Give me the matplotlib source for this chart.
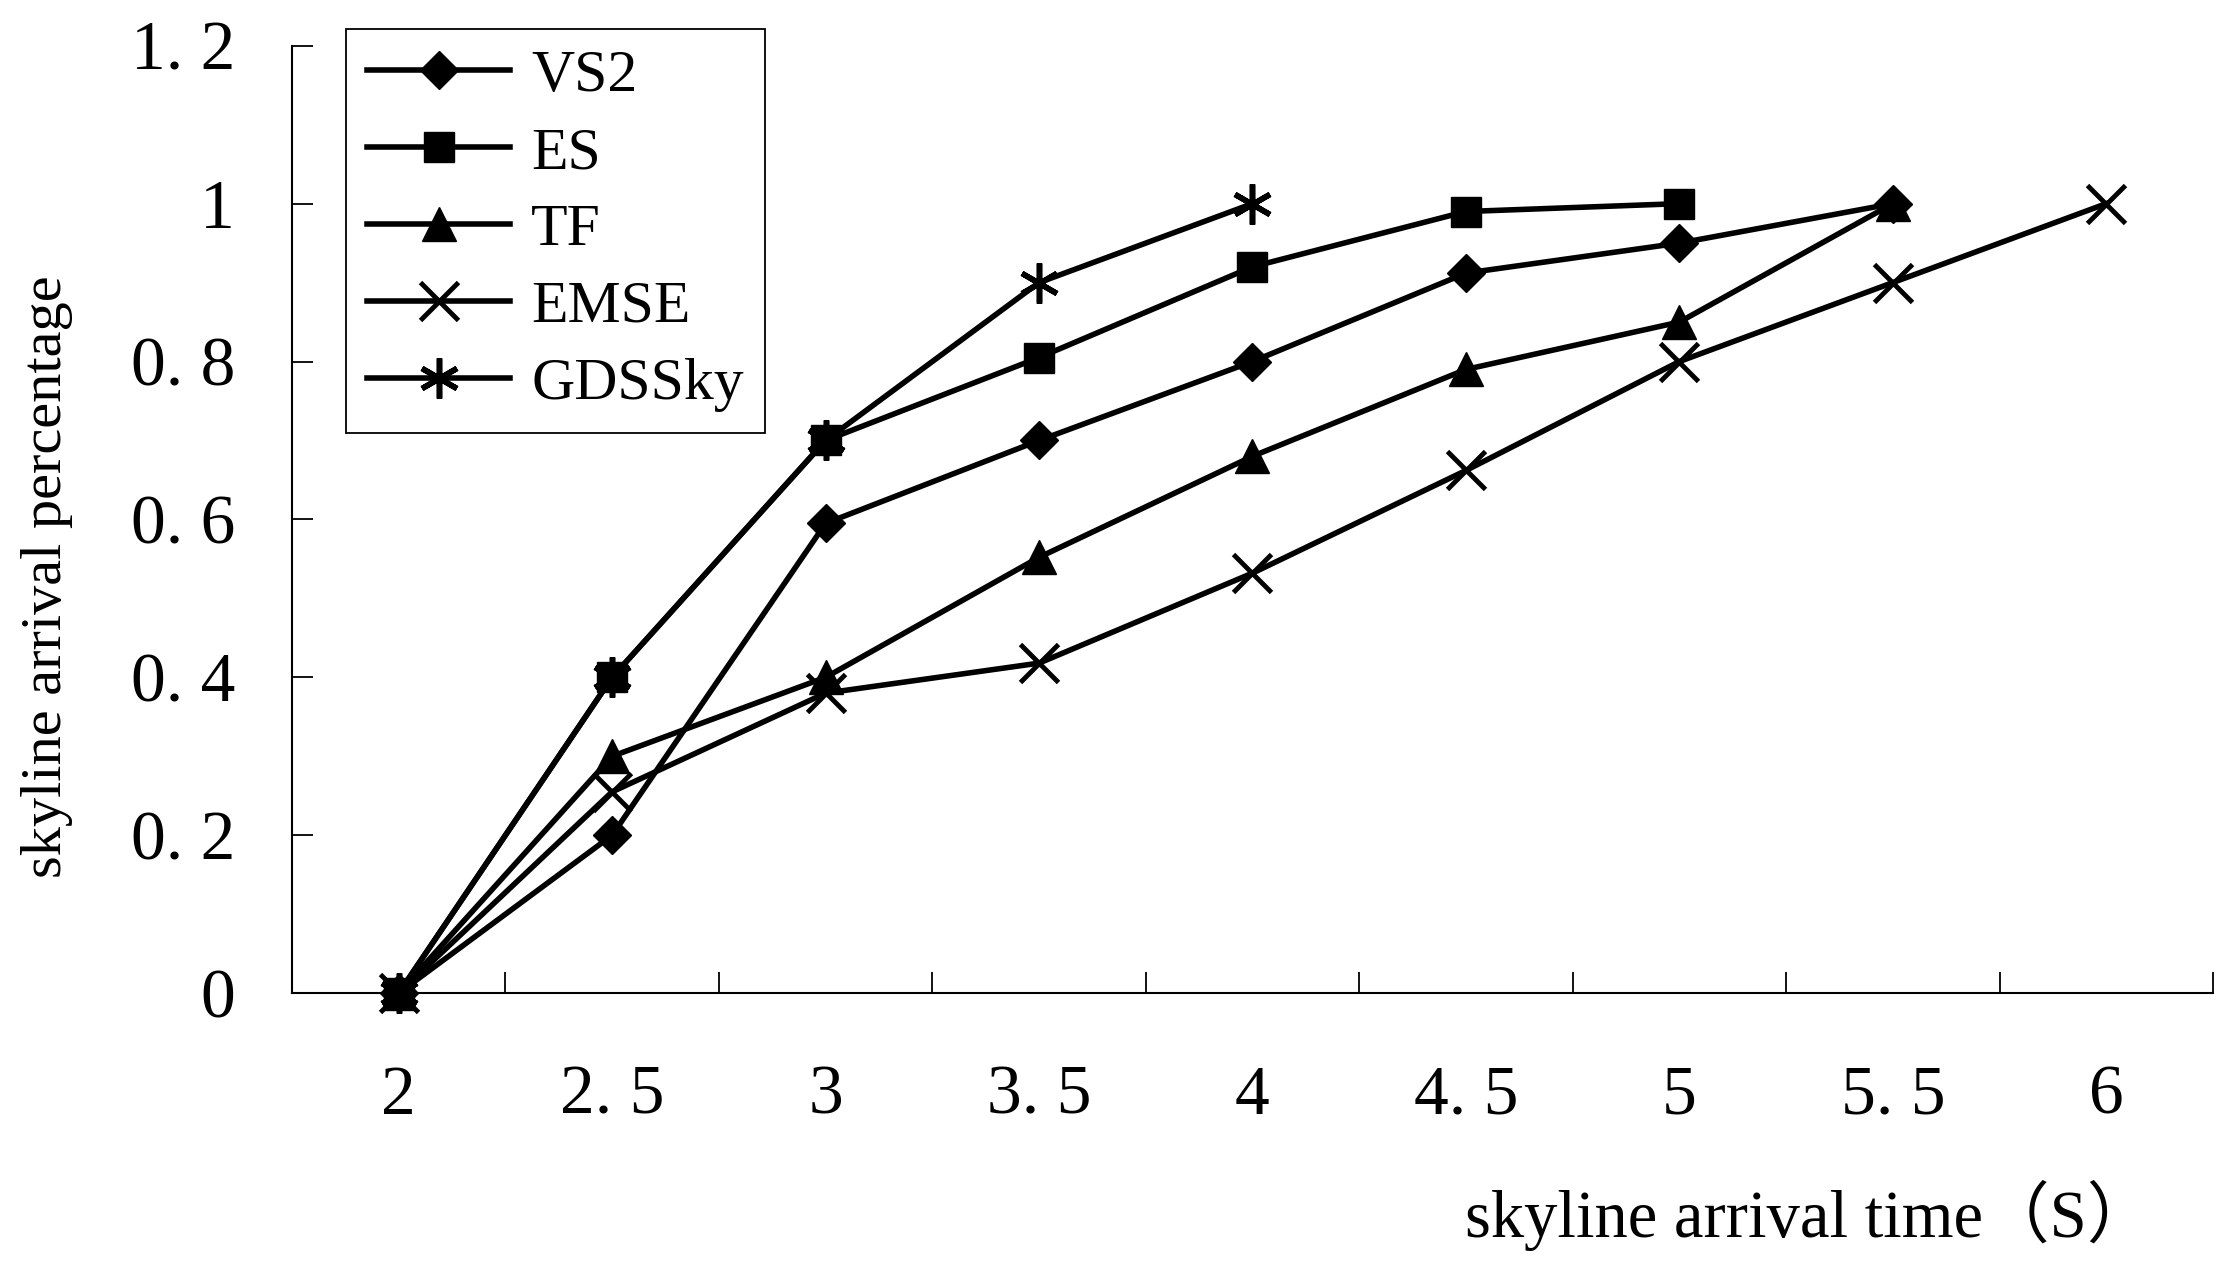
import matplotlib
matplotlib.use("Agg")
import matplotlib.pyplot as plt
from matplotlib.ticker import FixedLocator, FixedFormatter, NullFormatter

# skyline arrival time (S) and the percentage reached by each method
times = [2, 2.5, 3, 3.5, 4, 4.5, 5, 5.5, 6]
time_labels = ["2", "2. 5", "3", "3. 5", "4", "4. 5", "5", "5. 5", "6"]

vs2 = [0, 0.2, 0.595, 0.7, 0.8, 0.912, 0.95, 1.0]
es = [0, 0.4, 0.7, 0.805, 0.92, 0.99, 1.0]
tf = [0, 0.3, 0.4, 0.552, 0.68, 0.79, 0.85, 1.0]
emse = [0, 0.255, 0.38, 0.418, 0.532, 0.662, 0.8, 0.9, 1.0]
gdssky = [0, 0.4, 0.7, 0.9, 1.0]

y_ticks = [0, 0.2, 0.4, 0.6, 0.8, 1.0, 1.2]
y_labels = ["0", "0. 2", "0. 4", "0. 6", "0. 8", "1", "1. 2"]

serif = ["Liberation Serif", "DejaVu Serif"]
plt.rcParams["font.family"] = serif

fig = plt.figure(figsize=(22.34, 12.70), dpi=100)
ax = fig.add_axes([0.1307, 0.218, 0.8599, 0.746])

lw = 4
ax.plot(times[:len(vs2)], vs2, color="black", lw=lw, marker="D", ms=19, label="VS2")
ax.plot(times[:len(es)], es, color="black", lw=lw, marker="s", ms=22, label="ES")
ax.plot(times[:len(tf)], tf, color="black", lw=lw, marker="^", ms=25, label="TF")
ax.plot(times[:len(emse)], emse, color="black", lw=lw, marker="x", ms=27, mew=3.5, label="EMSE")
ax.plot(times[:len(gdssky)], gdssky, color="black", lw=lw, marker=(6, 2, 0), ms=29, mew=4, label="GDSSky")

# category style x axis: ticks on the boundaries, labels in the middle
ax.set_xlim(1.75, 6.25)
ax.set_ylim(0, 1.2)
bounds = [t - 0.25 for t in times] + [times[-1] + 0.25]
ax.xaxis.set_major_locator(FixedLocator(bounds))
ax.xaxis.set_major_formatter(NullFormatter())
ax.xaxis.set_minor_locator(FixedLocator(times))
ax.xaxis.set_minor_formatter(FixedFormatter(time_labels))
ax.tick_params(axis="x", which="major", direction="in", length=15, width=1.3)
ax.tick_params(axis="x", which="minor", length=0, pad=52, labelsize=50)

ax.set_yticks(y_ticks)
ax.set_yticklabels(y_labels)
ax.tick_params(axis="y", direction="in", length=15, width=1.3, pad=41, labelsize=50)

for side in ["top", "right"]:
    ax.spines[side].set_visible(False)
for side in ["left", "bottom"]:
    ax.spines[side].set_linewidth(1.5)
for line in ax.lines:
    line.set_clip_on(False)

fig.text(0.810, 0.043, "skyline arrival time（S）", fontsize=48,
         family=["Liberation Serif", "Noto Sans CJK SC"], ha="center", va="center")
fig.text(0.021, 0.546, "skyline arrival percentage", fontsize=42,
         rotation=90, ha="center", va="center")

leg = ax.legend(loc="upper left", bbox_to_anchor=(346 / 2234, 1 - 28.5 / 1270),
                bbox_transform=fig.transFigure, borderaxespad=0, fontsize=43,
                handlelength=2.4, handletextpad=0.35, labelspacing=0.37,
                borderpad=0.35, fancybox=False, framealpha=1)
leg.get_frame().set_edgecolor("black")
leg.get_frame().set_linewidth(1.3)

fig.savefig("out.png", dpi=100)
